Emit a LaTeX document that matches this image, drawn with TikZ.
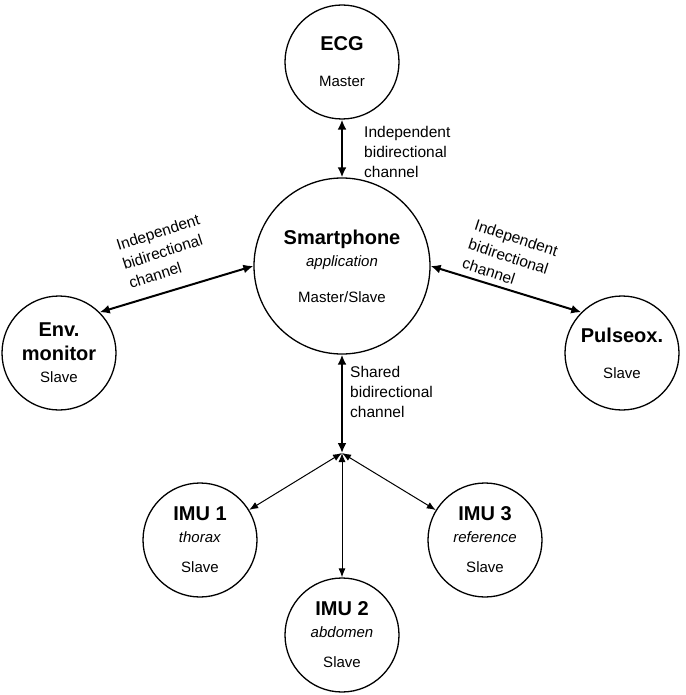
\documentclass[tikz,border=0pt]{standalone}
\usepackage{fontspec}
\setmainfont{Liberation Sans}
\usetikzlibrary{arrows.meta}
\begin{document}
\begin{tikzpicture}[x=1pt,y=-1pt,
  dev/.style={circle,draw,line width=1.3pt,minimum size=114pt,inner sep=0pt,align=center,font=\fontsize{15}{22}\selectfont},
  big/.style={dev,minimum size=176pt},
  thick arr/.style={line width=2pt,{Latex[length=10pt,width=9pt]}-{Latex[length=10pt,width=9pt]}},
  thin arr/.style={line width=1pt,{Latex[length=9pt,width=7pt]}-{Latex[length=9pt,width=7pt]}},
  lbl/.style={font=\fontsize{15.5}{20}\selectfont,align=left,inner sep=0pt}]
\useasboundingbox (0,0) rectangle (685,695);
\newcommand{\ti}[1]{{\fontsize{20}{22}\selectfont\bfseries #1}}
\node[dev] (ecg) at (342,62) {\ti{ECG}\\[14pt]Master};
\node[big] (sp) at (342,266) {\ti{Smartphone}\\\textit{application}\\[14pt]Master/Slave};
\node[dev] (env) at (59,353) {\ti{Env.}\\[2pt]\ti{monitor}\\Slave};
\node[dev] (pul) at (622,353) {\ti{Pulseox.}\\[14pt]Slave};
\node[dev] (i1) at (200,540) {\ti{IMU 1}\\\textit{thorax}\\[8pt]Slave};
\node[dev] (i3) at (485,540) {\ti{IMU 3}\\\textit{reference}\\[8pt]Slave};
\node[dev] (i2) at (342,635) {\ti{IMU 2}\\\textit{abdomen}\\[8pt]Slave};
\coordinate (j) at (342,453);
\draw[thick arr] (ecg) -- (sp);
\draw[thick arr] (env.45) -- (sp.180);
\draw[thick arr] (pul.135) -- (sp.0);
\draw[thick arr] (sp) -- (j);
\draw[thin arr] (j) -- (i1);
\draw[thin arr] (j) -- (i2);
\draw[thin arr] (j) -- (i3);
\node[lbl,anchor=north west] (l1) at (364,126) {Independent\\bidirectional\\channel};
\node[lbl,anchor=north west,rotate=18] (l2) at (115,240) {Independent\\bidirectional\\channel};
\node[lbl,anchor=north west,rotate=-18] (l3) at (477,219) {Independent\\bidirectional\\channel};
\node[lbl,anchor=north west] (l4) at (350,366) {Shared\\bidirectional\\channel};
\end{tikzpicture}
\end{document}
